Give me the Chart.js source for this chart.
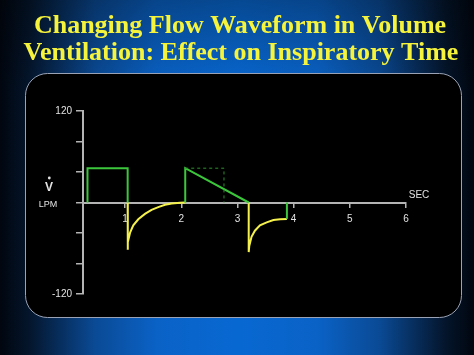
<!DOCTYPE html>
<html>
<head>
<meta charset="utf-8">
<script src="https://cdn.jsdelivr.net/npm/chart.js@4.4.1/dist/chart.umd.min.js"></script>
<style>
  html, body { margin: 0; padding: 0; background: #000; }
  canvas { display: block; }
</style>
</head>
<body>
<canvas id="flow" width="474" height="355"></canvas>
<script>
// tick labels
const timeTicks = [1, 2, 3, 4, 5, 6];
const flowTicks = [-120, -80, -40, 0, 40, 80, 120];

// constant (square) flow breath
const squareTime = [0.33, 0.33, 1.045, 1.045];
const squareFlow = [0, 45, 45, 0];

// decelerating flow breath
const decelTime = [2.07, 2.07, 3.2];
const decelFlow = [0, 45, 0];

// square breath outline for comparison (dashed)
const dashTime = [2.07, 2.76, 2.76];
const dashFlow = [45, 45, 0];

// expiratory flow after each breath
const exhale1Time = [1.045, 1.045, 1.05, 1.09, 1.145, 1.234, 1.353, 1.47, 1.59, 1.71, 1.83, 1.98, 2.07];
const exhale1Flow = [0, -62, -52, -39, -30, -22, -15, -9.6, -6, -3, -1.3, -0.4, 0];
const exhale2Time = [3.2, 3.2, 3.21, 3.25, 3.31, 3.40, 3.52, 3.64, 3.76, 3.88];
const exhale2Flow = [0, -65, -57, -45, -37, -30, -26, -23, -22, -21.5];

// next breath triggered before expiration ends
const triggerTime = [3.88, 3.88];
const triggerFlow = [-21.5, 0];

const GREEN = '#3cc63c';
const YELLOW = '#f4f04c';
const AXIS = '#b4b4b4';
const TEXT = '#e2e2e2';

const pts = (xs, ys) => xs.map((x, i) => ({ x: x, y: ys[i] }));

const line = (xs, ys, color, extra) => Object.assign({
  data: pts(xs, ys),
  showLine: true,
  borderColor: color,
  borderWidth: 2,
  pointRadius: 0,
  tension: 0,
  fill: false,
}, extra || {});

const decor = {
  id: 'decor',
  beforeDraw(chart) {
    const ctx = chart.ctx;
    const w = chart.width, h = chart.height;
    ctx.save();
    // blue backdrop
    const g = ctx.createLinearGradient(0, 0, w, 0);
    g.addColorStop(0, '#01060f');
    g.addColorStop(0.06, '#04152b');
    g.addColorStop(0.2, '#0a4a95');
    g.addColorStop(0.33, '#0a62c6');
    g.addColorStop(0.5, '#0868d2');
    g.addColorStop(0.67, '#0a62c6');
    g.addColorStop(0.8, '#0a4a95');
    g.addColorStop(0.94, '#04152b');
    g.addColorStop(1, '#01060f');
    ctx.fillStyle = g;
    ctx.fillRect(0, 0, w, h);
    const v = ctx.createLinearGradient(0, 0, 0, 90);
    v.addColorStop(0, 'rgba(0,0,0,0.3)');
    v.addColorStop(1, 'rgba(0,0,0,0)');
    ctx.fillStyle = v;
    ctx.fillRect(0, 0, w, 90);

    // black panel
    ctx.beginPath();
    ctx.roundRect(25.5, 73.5, 436, 244, 22);
    ctx.fillStyle = '#000';
    ctx.fill();
    ctx.strokeStyle = '#9aa3b5';
    ctx.lineWidth = 1;
    ctx.stroke();

    // title
    ctx.fillStyle = '#f6f33c';
    ctx.font = 'bold 26px "Liberation Serif", "Times New Roman", serif';
    ctx.textAlign = 'center';
    ctx.textBaseline = 'alphabetic';
    ctx.fillText('Changing Flow Waveform in Volume', 240, 33);
    ctx.fillText('Ventilation: Effect on Inspiratory Time', 241, 60);
    ctx.restore();
  },
  afterDraw(chart) {
    const ctx = chart.ctx;
    ctx.save();
    ctx.fillStyle = TEXT;
    ctx.textAlign = 'center';
    ctx.textBaseline = 'middle';
    ctx.font = 'bold 12px "Liberation Sans", Arial, sans-serif';
    ctx.fillText('V', 49, 188);
    ctx.beginPath();
    ctx.arc(49.3, 178, 1.4, 0, Math.PI * 2);
    ctx.fill();
    ctx.font = '9px "Liberation Sans", Arial, sans-serif';
    ctx.fillText('LPM', 48, 205);
    ctx.font = '10px "Liberation Sans", Arial, sans-serif';
    ctx.fillText('SEC', 419, 195);
    ctx.restore();
  }
};

new Chart(document.getElementById('flow'), {
  type: 'scatter',
  data: {
    datasets: [
      line(dashTime, dashFlow, '#2f8f2f', { borderWidth: 1, borderDash: [3, 3] }),
      line(squareTime, squareFlow, GREEN),
      line(decelTime, decelFlow, GREEN),
      line(triggerTime, triggerFlow, GREEN),
      line(exhale1Time, exhale1Flow, YELLOW),
      line(exhale2Time, exhale2Flow, YELLOW),
    ],
  },
  options: {
    responsive: false,
    animation: false,
    devicePixelRatio: 1,
    layout: {
      padding: { left: 43, right: 68, top: 111, bottom: 61 },
    },
    plugins: {
      legend: { display: false },
      tooltip: { enabled: false },
      title: { display: false },
    },
    scales: {
      x: {
        type: 'linear',
        position: { y: 0 },
        min: 0.25,
        max: 6,
        afterBuildTicks: axis => {
          axis.ticks = timeTicks.map(v => ({ value: v }));
        },
        grid: { drawOnChartArea: false, color: AXIS, tickLength: 4, lineWidth: 1.5 },
        border: { color: AXIS, width: 2 },
        ticks: {
          color: TEXT,
          padding: 7,
          font: { size: 10, family: '"Liberation Sans", Arial, sans-serif' },
        },
      },
      y: {
        type: 'linear',
        position: 'left',
        min: -120,
        max: 120,
        afterBuildTicks: axis => {
          axis.ticks = flowTicks.map(v => ({ value: v }));
        },
        afterFit: axis => {
          axis.width = 40;
        },
        grid: { drawOnChartArea: false, color: AXIS, tickLength: 7, lineWidth: 1.5 },
        border: { color: AXIS, width: 2 },
        ticks: {
          color: TEXT,
          padding: 4,
          font: { size: 10, family: '"Liberation Sans", Arial, sans-serif' },
          callback: v => (Math.abs(v) === 120 ? String(v) : ''),
        },
      },
    },
  },
  plugins: [decor],
});
</script>
</body>
</html>
